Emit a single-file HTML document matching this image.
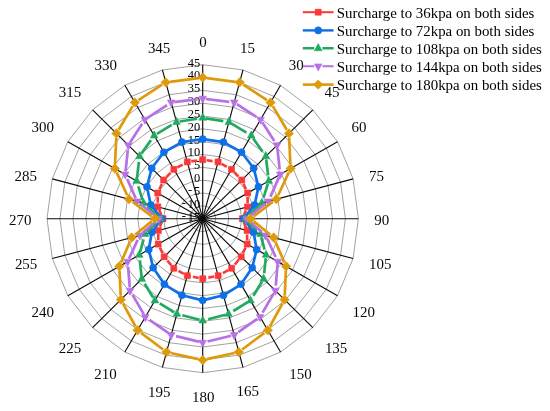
<!DOCTYPE html>
<html><head><meta charset="utf-8"><title>Polar chart</title>
<style>
html,body{margin:0;padding:0;background:#fff;}
body{width:550px;height:411px;overflow:hidden;font-family:"Liberation Serif",serif;}
svg{display:block;}
</style></head><body>
<svg width="550" height="411" viewBox="0 0 550 411">
<rect width="550" height="411" fill="#ffffff"/>
<g fill="none" stroke="#7a7a7a" stroke-width="0.7">
<polygon points="202.70,205.87 206.06,206.30 209.19,207.59 211.87,209.63 213.94,212.28 215.23,215.38 215.67,218.70 215.23,222.02 213.94,225.12 211.87,227.77 209.19,229.81 206.06,231.10 202.70,231.53 199.34,231.10 196.21,229.81 193.53,227.77 191.46,225.12 190.17,222.02 189.72,218.70 190.17,215.38 191.46,212.28 193.53,209.63 196.21,207.59 199.34,206.30"/>
<polygon points="202.70,193.03 209.42,193.91 215.67,196.47 221.05,200.55 225.17,205.87 227.77,212.06 228.65,218.70 227.77,225.34 225.17,231.53 221.05,236.85 215.67,240.93 209.42,243.49 202.70,244.37 195.98,243.49 189.72,240.93 184.35,236.85 180.23,231.53 177.63,225.34 176.75,218.70 177.63,212.06 180.23,205.87 184.35,200.55 189.72,196.47 195.98,193.91"/>
<polygon points="202.70,180.20 212.77,181.51 222.16,185.36 230.22,191.48 236.41,199.45 240.30,208.74 241.62,218.70 240.30,228.66 236.41,237.95 230.22,245.92 222.16,252.04 212.77,255.89 202.70,257.20 192.63,255.89 183.24,252.04 175.18,245.92 168.99,237.95 165.10,228.66 163.77,218.70 165.10,208.74 168.99,199.45 175.18,191.48 183.24,185.36 192.63,181.51"/>
<polygon points="202.70,167.37 216.13,169.12 228.65,174.24 239.40,182.40 247.65,193.03 252.83,205.41 254.60,218.70 252.83,231.99 247.65,244.37 239.40,255.00 228.65,263.16 216.13,268.28 202.70,270.03 189.27,268.28 176.75,263.16 166.00,255.00 157.75,244.37 152.57,231.99 150.80,218.70 152.57,205.41 157.75,193.03 166.00,182.40 176.75,174.24 189.27,169.12"/>
<polygon points="202.70,154.53 219.49,156.72 235.14,163.13 248.57,173.33 258.88,186.62 265.36,202.09 267.57,218.70 265.36,235.31 258.88,250.78 248.57,264.07 235.14,274.27 219.49,280.68 202.70,282.87 185.91,280.68 170.26,274.27 156.83,264.07 146.52,250.78 140.04,235.31 137.82,218.70 140.04,202.09 146.52,186.62 156.83,173.33 170.26,163.13 185.91,156.72"/>
<polygon points="202.70,141.70 222.85,144.32 241.62,152.02 257.75,164.25 270.12,180.20 277.90,198.77 280.55,218.70 277.90,238.63 270.12,257.20 257.75,273.15 241.62,285.38 222.85,293.08 202.70,295.70 182.55,293.08 163.77,285.38 147.65,273.15 135.28,257.20 127.50,238.63 124.85,218.70 127.50,198.77 135.28,180.20 147.65,164.25 163.77,152.02 182.55,144.32"/>
<polygon points="202.70,128.87 226.21,131.93 248.11,140.90 266.92,155.18 281.36,173.78 290.43,195.45 293.52,218.70 290.43,241.95 281.36,263.62 266.92,282.22 248.11,296.50 226.21,305.47 202.70,308.53 179.19,305.47 157.29,296.50 138.48,282.22 124.04,263.62 114.97,241.95 111.87,218.70 114.97,195.45 124.04,173.78 138.48,155.18 157.29,140.90 179.19,131.93"/>
<polygon points="202.70,116.03 229.57,119.53 254.60,129.79 276.10,146.10 292.59,167.37 302.96,192.13 306.50,218.70 302.96,245.27 292.59,270.03 276.10,291.30 254.60,307.61 229.57,317.87 202.70,321.37 175.83,317.87 150.80,307.61 129.30,291.30 112.81,270.03 102.44,245.27 98.90,218.70 102.44,192.13 112.81,167.37 129.30,146.10 150.80,129.79 175.83,119.53"/>
<polygon points="202.70,103.20 232.92,107.14 261.09,118.67 285.27,137.03 303.83,160.95 315.50,188.81 319.47,218.70 315.50,248.59 303.83,276.45 285.27,300.37 261.09,318.73 232.92,330.26 202.70,334.20 172.48,330.26 144.31,318.73 120.13,300.37 101.57,276.45 89.90,248.59 85.92,218.70 89.90,188.81 101.57,160.95 120.13,137.03 144.31,118.67 172.48,107.14"/>
<polygon points="202.70,90.37 236.28,94.74 267.57,107.56 294.45,127.95 315.07,154.53 328.03,185.48 332.45,218.70 328.03,251.92 315.07,282.87 294.45,309.45 267.57,329.84 236.28,342.66 202.70,347.03 169.12,342.66 137.82,329.84 110.95,309.45 90.33,282.87 77.37,251.92 72.95,218.70 77.37,185.48 90.33,154.53 110.95,127.95 137.82,107.56 169.12,94.74"/>
<polygon points="202.70,77.53 239.64,82.34 274.06,96.45 303.62,118.88 326.30,148.12 340.56,182.16 345.42,218.70 340.56,255.24 326.30,289.28 303.62,318.52 274.06,340.95 239.64,355.06 202.70,359.87 165.76,355.06 131.34,340.95 101.78,318.52 79.10,289.28 64.84,255.24 59.97,218.70 64.84,182.16 79.10,148.12 101.78,118.88 131.34,96.45 165.76,82.34"/>
<polygon points="202.70,64.70 243.00,69.95 280.55,85.33 312.80,109.81 337.54,141.70 353.09,178.84 358.40,218.70 353.09,258.56 337.54,295.70 312.80,327.59 280.55,352.07 243.00,367.45 202.70,372.70 162.40,367.45 124.85,352.07 92.60,327.59 67.86,295.70 52.31,258.56 47.00,218.70 52.31,178.84 67.86,141.70 92.60,109.81 124.85,85.33 162.40,69.95"/>
</g>
<g stroke="#0a0a0a" stroke-width="1.15">
<line x1="202.7" y1="218.7" x2="202.70" y2="64.70"/>
<line x1="202.7" y1="218.7" x2="243.00" y2="69.95"/>
<line x1="202.7" y1="218.7" x2="280.55" y2="85.33"/>
<line x1="202.7" y1="218.7" x2="312.80" y2="109.81"/>
<line x1="202.7" y1="218.7" x2="337.54" y2="141.70"/>
<line x1="202.7" y1="218.7" x2="353.09" y2="178.84"/>
<line x1="202.7" y1="218.7" x2="358.40" y2="218.70"/>
<line x1="202.7" y1="218.7" x2="353.09" y2="258.56"/>
<line x1="202.7" y1="218.7" x2="337.54" y2="295.70"/>
<line x1="202.7" y1="218.7" x2="312.80" y2="327.59"/>
<line x1="202.7" y1="218.7" x2="280.55" y2="352.07"/>
<line x1="202.7" y1="218.7" x2="243.00" y2="367.45"/>
<line x1="202.7" y1="218.7" x2="202.70" y2="372.70"/>
<line x1="202.7" y1="218.7" x2="162.40" y2="367.45"/>
<line x1="202.7" y1="218.7" x2="124.85" y2="352.07"/>
<line x1="202.7" y1="218.7" x2="92.60" y2="327.59"/>
<line x1="202.7" y1="218.7" x2="67.86" y2="295.70"/>
<line x1="202.7" y1="218.7" x2="52.31" y2="258.56"/>
<line x1="202.7" y1="218.7" x2="47.00" y2="218.70"/>
<line x1="202.7" y1="218.7" x2="52.31" y2="178.84"/>
<line x1="202.7" y1="218.7" x2="67.86" y2="141.70"/>
<line x1="202.7" y1="218.7" x2="92.60" y2="109.81"/>
<line x1="202.7" y1="218.7" x2="124.85" y2="85.33"/>
<line x1="202.7" y1="218.7" x2="162.40" y2="69.95"/>
</g>
<g font-family="'Liberation Serif', serif" font-size="13.5" fill="#000000" text-anchor="end">
<text transform="translate(200.2,66.60) scale(0.92,1)">45</text>
<text transform="translate(200.2,79.43) scale(0.92,1)">40</text>
<text transform="translate(200.2,92.27) scale(0.92,1)">35</text>
<text transform="translate(200.2,105.10) scale(0.92,1)">30</text>
<text transform="translate(200.2,117.93) scale(0.92,1)">25</text>
<text transform="translate(200.2,130.77) scale(0.92,1)">20</text>
<text transform="translate(200.2,143.60) scale(0.92,1)">15</text>
<text transform="translate(200.2,156.43) scale(0.92,1)">10</text>
<text transform="translate(200.2,169.27) scale(0.92,1)">5</text>
<text transform="translate(200.2,182.10) scale(0.92,1)">0</text>
<text transform="translate(200.2,194.93) scale(0.92,1)"><tspan dy="-0.9">-</tspan><tspan dx="2" dy="0.9">5</tspan></text>
<text transform="translate(200.2,207.77) scale(0.92,1)"><tspan dy="-0.9">-</tspan><tspan dx="2" dy="0.9">10</tspan></text>
<text transform="translate(200.2,220.60) scale(0.92,1)"><tspan dy="-0.9">-</tspan><tspan dx="2" dy="0.9">15</tspan></text>
</g>
<g font-family="'Liberation Serif', serif" font-size="15.6" fill="#0a0a0a" text-anchor="middle">
<text transform="translate(202.9,47.40) scale(0.96,1)">0</text>
<text transform="translate(247.5,52.90) scale(0.96,1)">15</text>
<text transform="translate(296.3,70.10) scale(0.96,1)">30</text>
<text transform="translate(332.0,97.20) scale(0.96,1)">45</text>
<text transform="translate(359,132.00) scale(0.96,1)">60</text>
<text transform="translate(376.4,180.80) scale(0.96,1)">75</text>
<text transform="translate(381.8,224.50) scale(0.96,1)">90</text>
<text transform="translate(380.3,268.70) scale(0.96,1)">105</text>
<text transform="translate(363.7,317.20) scale(0.96,1)">120</text>
<text transform="translate(336.1,352.60) scale(0.96,1)">135</text>
<text transform="translate(300.4,379.40) scale(0.96,1)">150</text>
<text transform="translate(247.8,396.30) scale(0.96,1)">165</text>
<text transform="translate(203.2,402.40) scale(0.96,1)">180</text>
<text transform="translate(159.2,396.80) scale(0.96,1)">195</text>
<text transform="translate(105.5,379.40) scale(0.96,1)">210</text>
<text transform="translate(70,352.60) scale(0.96,1)">225</text>
<text transform="translate(42.8,317.20) scale(0.96,1)">240</text>
<text transform="translate(26.1,268.70) scale(0.96,1)">255</text>
<text transform="translate(20.2,224.90) scale(0.96,1)">270</text>
<text transform="translate(25.8,181.40) scale(0.96,1)">285</text>
<text transform="translate(42.8,132.30) scale(0.96,1)">300</text>
<text transform="translate(70,97.00) scale(0.96,1)">315</text>
<text transform="translate(105.7,69.70) scale(0.96,1)">330</text>
<text transform="translate(159.1,52.60) scale(0.96,1)">345</text>
</g>
<g stroke="#f93838" stroke-width="2.6" fill="none" stroke-dasharray="6 2.2">
<line x1="206.66" y1="160.25" x2="218.08" y2="161.93"/>
<line x1="221.58" y1="163.86" x2="231.50" y2="169.35"/>
<line x1="234.28" y1="172.24" x2="241.78" y2="180.04"/>
<line x1="243.43" y1="183.69" x2="247.65" y2="193.03"/>
<line x1="247.62" y1="197.03" x2="247.57" y2="206.81"/>
<line x1="245.97" y1="210.48" x2="242.40" y2="218.70"/>
<line x1="243.88" y1="222.42" x2="247.07" y2="230.46"/>
<line x1="247.10" y1="234.46" x2="247.20" y2="244.11"/>
<line x1="245.50" y1="247.73" x2="241.23" y2="256.81"/>
<line x1="238.66" y1="259.88" x2="231.63" y2="268.27"/>
<line x1="228.13" y1="270.20" x2="218.15" y2="275.72"/>
<line x1="214.22" y1="276.49" x2="202.70" y2="278.76"/>
<line x1="198.78" y1="277.99" x2="187.25" y2="275.72"/>
<line x1="183.75" y1="273.79" x2="173.77" y2="268.27"/>
<line x1="171.20" y1="265.20" x2="164.17" y2="256.81"/>
<line x1="162.47" y1="253.19" x2="158.20" y2="244.11"/>
<line x1="158.24" y1="240.11" x2="158.33" y2="230.46"/>
<line x1="159.81" y1="226.74" x2="163.00" y2="218.70"/>
<line x1="161.40" y1="215.03" x2="157.83" y2="206.81"/>
<line x1="157.81" y1="202.81" x2="157.75" y2="193.03"/>
<line x1="159.40" y1="189.39" x2="163.62" y2="180.04"/>
<line x1="166.39" y1="177.16" x2="173.90" y2="169.35"/>
<line x1="177.40" y1="167.42" x2="187.32" y2="161.93"/>
<line x1="191.28" y1="161.34" x2="202.70" y2="159.67"/>
</g>
<rect x="199.70" y="156.67" width="6.0" height="6.0" fill="#f93838" stroke="#f93838" stroke-width="0.6" stroke-linejoin="round"/>
<rect x="215.08" y="158.93" width="6.0" height="6.0" fill="#f93838" stroke="#f93838" stroke-width="0.6" stroke-linejoin="round"/>
<rect x="228.50" y="166.35" width="6.0" height="6.0" fill="#f93838" stroke="#f93838" stroke-width="0.6" stroke-linejoin="round"/>
<rect x="238.78" y="177.04" width="6.0" height="6.0" fill="#f93838" stroke="#f93838" stroke-width="0.6" stroke-linejoin="round"/>
<rect x="244.65" y="190.03" width="6.0" height="6.0" fill="#f93838" stroke="#f93838" stroke-width="0.6" stroke-linejoin="round"/>
<rect x="244.57" y="203.81" width="6.0" height="6.0" fill="#f93838" stroke="#f93838" stroke-width="0.6" stroke-linejoin="round"/>
<rect x="239.40" y="215.70" width="6.0" height="6.0" fill="#f93838" stroke="#f93838" stroke-width="0.6" stroke-linejoin="round"/>
<rect x="244.07" y="227.46" width="6.0" height="6.0" fill="#f93838" stroke="#f93838" stroke-width="0.6" stroke-linejoin="round"/>
<rect x="244.20" y="241.11" width="6.0" height="6.0" fill="#f93838" stroke="#f93838" stroke-width="0.6" stroke-linejoin="round"/>
<rect x="238.23" y="253.81" width="6.0" height="6.0" fill="#f93838" stroke="#f93838" stroke-width="0.6" stroke-linejoin="round"/>
<rect x="228.63" y="265.27" width="6.0" height="6.0" fill="#f93838" stroke="#f93838" stroke-width="0.6" stroke-linejoin="round"/>
<rect x="215.15" y="272.72" width="6.0" height="6.0" fill="#f93838" stroke="#f93838" stroke-width="0.6" stroke-linejoin="round"/>
<rect x="199.70" y="275.76" width="6.0" height="6.0" fill="#f93838" stroke="#f93838" stroke-width="0.6" stroke-linejoin="round"/>
<rect x="184.25" y="272.72" width="6.0" height="6.0" fill="#f93838" stroke="#f93838" stroke-width="0.6" stroke-linejoin="round"/>
<rect x="170.77" y="265.27" width="6.0" height="6.0" fill="#f93838" stroke="#f93838" stroke-width="0.6" stroke-linejoin="round"/>
<rect x="161.17" y="253.81" width="6.0" height="6.0" fill="#f93838" stroke="#f93838" stroke-width="0.6" stroke-linejoin="round"/>
<rect x="155.20" y="241.11" width="6.0" height="6.0" fill="#f93838" stroke="#f93838" stroke-width="0.6" stroke-linejoin="round"/>
<rect x="155.33" y="227.46" width="6.0" height="6.0" fill="#f93838" stroke="#f93838" stroke-width="0.6" stroke-linejoin="round"/>
<rect x="160.00" y="215.70" width="6.0" height="6.0" fill="#f93838" stroke="#f93838" stroke-width="0.6" stroke-linejoin="round"/>
<rect x="154.83" y="203.81" width="6.0" height="6.0" fill="#f93838" stroke="#f93838" stroke-width="0.6" stroke-linejoin="round"/>
<rect x="154.75" y="190.03" width="6.0" height="6.0" fill="#f93838" stroke="#f93838" stroke-width="0.6" stroke-linejoin="round"/>
<rect x="160.62" y="177.04" width="6.0" height="6.0" fill="#f93838" stroke="#f93838" stroke-width="0.6" stroke-linejoin="round"/>
<rect x="170.90" y="166.35" width="6.0" height="6.0" fill="#f93838" stroke="#f93838" stroke-width="0.6" stroke-linejoin="round"/>
<rect x="184.32" y="158.93" width="6.0" height="6.0" fill="#f93838" stroke="#f93838" stroke-width="0.6" stroke-linejoin="round"/>
<g stroke="#0f6fe6" stroke-width="2.7" fill="none">
<line x1="202.70" y1="139.13" x2="223.45" y2="142.09"/>
<line x1="223.45" y1="142.09" x2="241.50" y2="152.24"/>
<line x1="241.50" y1="152.24" x2="253.71" y2="168.25"/>
<line x1="253.71" y1="168.25" x2="258.43" y2="186.87"/>
<line x1="258.43" y1="186.87" x2="254.59" y2="204.95"/>
<line x1="254.59" y1="204.95" x2="243.70" y2="218.70"/>
<line x1="243.70" y1="218.70" x2="253.58" y2="232.19"/>
<line x1="253.58" y1="232.19" x2="256.64" y2="249.50"/>
<line x1="256.64" y1="249.50" x2="252.24" y2="267.70"/>
<line x1="252.24" y1="267.70" x2="240.98" y2="284.27"/>
<line x1="240.98" y1="284.27" x2="223.45" y2="295.31"/>
<line x1="223.45" y1="295.31" x2="202.70" y2="300.32"/>
<line x1="202.70" y1="300.32" x2="181.95" y2="295.31"/>
<line x1="181.95" y1="295.31" x2="164.42" y2="284.27"/>
<line x1="164.42" y1="284.27" x2="153.16" y2="267.70"/>
<line x1="153.16" y1="267.70" x2="148.76" y2="249.50"/>
<line x1="148.76" y1="249.50" x2="151.82" y2="232.19"/>
<line x1="151.82" y1="232.19" x2="161.70" y2="218.70"/>
<line x1="161.70" y1="218.70" x2="150.81" y2="204.95"/>
<line x1="150.81" y1="204.95" x2="146.97" y2="186.87"/>
<line x1="146.97" y1="186.87" x2="151.69" y2="168.25"/>
<line x1="151.69" y1="168.25" x2="163.90" y2="152.24"/>
<line x1="163.90" y1="152.24" x2="181.95" y2="142.09"/>
<line x1="181.95" y1="142.09" x2="202.70" y2="139.13"/>
</g>
<circle cx="202.70" cy="139.13" r="3.55" fill="#0f6fe6" stroke="#0f6fe6" stroke-width="0.6" stroke-linejoin="round"/>
<circle cx="223.45" cy="142.09" r="3.55" fill="#0f6fe6" stroke="#0f6fe6" stroke-width="0.6" stroke-linejoin="round"/>
<circle cx="241.50" cy="152.24" r="3.55" fill="#0f6fe6" stroke="#0f6fe6" stroke-width="0.6" stroke-linejoin="round"/>
<circle cx="253.71" cy="168.25" r="3.55" fill="#0f6fe6" stroke="#0f6fe6" stroke-width="0.6" stroke-linejoin="round"/>
<circle cx="258.43" cy="186.87" r="3.55" fill="#0f6fe6" stroke="#0f6fe6" stroke-width="0.6" stroke-linejoin="round"/>
<circle cx="254.59" cy="204.95" r="3.55" fill="#0f6fe6" stroke="#0f6fe6" stroke-width="0.6" stroke-linejoin="round"/>
<circle cx="243.70" cy="218.70" r="3.55" fill="#0f6fe6" stroke="#0f6fe6" stroke-width="0.6" stroke-linejoin="round"/>
<circle cx="253.58" cy="232.19" r="3.55" fill="#0f6fe6" stroke="#0f6fe6" stroke-width="0.6" stroke-linejoin="round"/>
<circle cx="256.64" cy="249.50" r="3.55" fill="#0f6fe6" stroke="#0f6fe6" stroke-width="0.6" stroke-linejoin="round"/>
<circle cx="252.24" cy="267.70" r="3.55" fill="#0f6fe6" stroke="#0f6fe6" stroke-width="0.6" stroke-linejoin="round"/>
<circle cx="240.98" cy="284.27" r="3.55" fill="#0f6fe6" stroke="#0f6fe6" stroke-width="0.6" stroke-linejoin="round"/>
<circle cx="223.45" cy="295.31" r="3.55" fill="#0f6fe6" stroke="#0f6fe6" stroke-width="0.6" stroke-linejoin="round"/>
<circle cx="202.70" cy="300.32" r="3.55" fill="#0f6fe6" stroke="#0f6fe6" stroke-width="0.6" stroke-linejoin="round"/>
<circle cx="181.95" cy="295.31" r="3.55" fill="#0f6fe6" stroke="#0f6fe6" stroke-width="0.6" stroke-linejoin="round"/>
<circle cx="164.42" cy="284.27" r="3.55" fill="#0f6fe6" stroke="#0f6fe6" stroke-width="0.6" stroke-linejoin="round"/>
<circle cx="153.16" cy="267.70" r="3.55" fill="#0f6fe6" stroke="#0f6fe6" stroke-width="0.6" stroke-linejoin="round"/>
<circle cx="148.76" cy="249.50" r="3.55" fill="#0f6fe6" stroke="#0f6fe6" stroke-width="0.6" stroke-linejoin="round"/>
<circle cx="151.82" cy="232.19" r="3.55" fill="#0f6fe6" stroke="#0f6fe6" stroke-width="0.6" stroke-linejoin="round"/>
<circle cx="161.70" cy="218.70" r="3.55" fill="#0f6fe6" stroke="#0f6fe6" stroke-width="0.6" stroke-linejoin="round"/>
<circle cx="150.81" cy="204.95" r="3.55" fill="#0f6fe6" stroke="#0f6fe6" stroke-width="0.6" stroke-linejoin="round"/>
<circle cx="146.97" cy="186.87" r="3.55" fill="#0f6fe6" stroke="#0f6fe6" stroke-width="0.6" stroke-linejoin="round"/>
<circle cx="151.69" cy="168.25" r="3.55" fill="#0f6fe6" stroke="#0f6fe6" stroke-width="0.6" stroke-linejoin="round"/>
<circle cx="163.90" cy="152.24" r="3.55" fill="#0f6fe6" stroke="#0f6fe6" stroke-width="0.6" stroke-linejoin="round"/>
<circle cx="181.95" cy="142.09" r="3.55" fill="#0f6fe6" stroke="#0f6fe6" stroke-width="0.6" stroke-linejoin="round"/>
<g stroke="#1faa5f" stroke-width="2.7" fill="none">
<line x1="205.86" y1="118.33" x2="223.36" y2="121.13"/>
<line x1="231.63" y1="123.67" x2="246.44" y2="132.66"/>
<line x1="253.07" y1="138.18" x2="262.59" y2="151.69"/>
<line x1="266.20" y1="159.44" x2="268.11" y2="175.41"/>
<line x1="267.81" y1="184.02" x2="263.53" y2="197.68"/>
<line x1="259.53" y1="205.22" x2="249.33" y2="214.85"/>
<line x1="247.51" y1="220.98" x2="256.42" y2="230.00"/>
<line x1="261.20" y1="237.07" x2="264.60" y2="249.49"/>
<line x1="265.75" y1="258.07" x2="264.19" y2="273.38"/>
<line x1="261.95" y1="281.69" x2="253.37" y2="295.72"/>
<line x1="247.72" y1="302.17" x2="233.27" y2="310.98"/>
<line x1="225.39" y1="314.71" x2="208.12" y2="319.19"/>
<line x1="199.60" y1="319.79" x2="182.33" y2="315.31"/>
<line x1="174.18" y1="312.23" x2="159.73" y2="303.42"/>
<line x1="153.28" y1="297.77" x2="144.70" y2="283.73"/>
<line x1="141.46" y1="275.77" x2="139.89" y2="260.46"/>
<line x1="140.17" y1="251.80" x2="143.57" y2="239.38"/>
<line x1="147.30" y1="231.70" x2="156.21" y2="222.68"/>
<line x1="157.82" y1="216.50" x2="147.62" y2="206.87"/>
<line x1="142.59" y1="199.97" x2="138.30" y2="186.31"/>
<line x1="137.01" y1="177.79" x2="138.91" y2="161.83"/>
<line x1="141.42" y1="153.65" x2="150.95" y2="140.14"/>
<line x1="156.91" y1="133.91" x2="171.72" y2="124.92"/>
<line x1="179.67" y1="121.51" x2="197.17" y2="118.71"/>
</g>
<polygon points="202.70,113.13 206.50,120.23 198.90,120.23" fill="#1faa5f" stroke="#1faa5f" stroke-width="0.6" stroke-linejoin="round"/>
<polygon points="228.89,117.31 232.69,124.41 225.09,124.41" fill="#1faa5f" stroke="#1faa5f" stroke-width="0.6" stroke-linejoin="round"/>
<polygon points="251.23,130.87 255.03,137.97 247.43,137.97" fill="#1faa5f" stroke="#1faa5f" stroke-width="0.6" stroke-linejoin="round"/>
<polygon points="265.82,151.57 269.62,158.67 262.02,158.67" fill="#1faa5f" stroke="#1faa5f" stroke-width="0.6" stroke-linejoin="round"/>
<polygon points="268.77,176.27 272.57,183.37 264.97,183.37" fill="#1faa5f" stroke="#1faa5f" stroke-width="0.6" stroke-linejoin="round"/>
<polygon points="261.86,198.32 265.66,205.42 258.06,205.42" fill="#1faa5f" stroke="#1faa5f" stroke-width="0.6" stroke-linejoin="round"/>
<polygon points="245.26,214.00 249.06,221.10 241.46,221.10" fill="#1faa5f" stroke="#1faa5f" stroke-width="0.6" stroke-linejoin="round"/>
<polygon points="260.35,229.28 264.15,236.38 256.55,236.38" fill="#1faa5f" stroke="#1faa5f" stroke-width="0.6" stroke-linejoin="round"/>
<polygon points="266.07,250.19 269.87,257.29 262.27,257.29" fill="#1faa5f" stroke="#1faa5f" stroke-width="0.6" stroke-linejoin="round"/>
<polygon points="263.62,274.25 267.42,281.35 259.82,281.35" fill="#1faa5f" stroke="#1faa5f" stroke-width="0.6" stroke-linejoin="round"/>
<polygon points="250.45,295.80 254.25,302.90 246.65,302.90" fill="#1faa5f" stroke="#1faa5f" stroke-width="0.6" stroke-linejoin="round"/>
<polygon points="228.49,309.20 232.29,316.30 224.69,316.30" fill="#1faa5f" stroke="#1faa5f" stroke-width="0.6" stroke-linejoin="round"/>
<polygon points="202.70,315.90 206.50,323.00 198.90,323.00" fill="#1faa5f" stroke="#1faa5f" stroke-width="0.6" stroke-linejoin="round"/>
<polygon points="176.91,309.20 180.71,316.30 173.11,316.30" fill="#1faa5f" stroke="#1faa5f" stroke-width="0.6" stroke-linejoin="round"/>
<polygon points="154.95,295.80 158.75,302.90 151.15,302.90" fill="#1faa5f" stroke="#1faa5f" stroke-width="0.6" stroke-linejoin="round"/>
<polygon points="141.78,274.25 145.58,281.35 137.98,281.35" fill="#1faa5f" stroke="#1faa5f" stroke-width="0.6" stroke-linejoin="round"/>
<polygon points="139.33,250.19 143.13,257.29 135.53,257.29" fill="#1faa5f" stroke="#1faa5f" stroke-width="0.6" stroke-linejoin="round"/>
<polygon points="145.05,229.28 148.85,236.38 141.25,236.38" fill="#1faa5f" stroke="#1faa5f" stroke-width="0.6" stroke-linejoin="round"/>
<polygon points="160.14,214.00 163.94,221.10 156.34,221.10" fill="#1faa5f" stroke="#1faa5f" stroke-width="0.6" stroke-linejoin="round"/>
<polygon points="143.54,198.32 147.34,205.42 139.74,205.42" fill="#1faa5f" stroke="#1faa5f" stroke-width="0.6" stroke-linejoin="round"/>
<polygon points="136.63,176.27 140.43,183.37 132.83,183.37" fill="#1faa5f" stroke="#1faa5f" stroke-width="0.6" stroke-linejoin="round"/>
<polygon points="139.58,151.57 143.38,158.67 135.78,158.67" fill="#1faa5f" stroke="#1faa5f" stroke-width="0.6" stroke-linejoin="round"/>
<polygon points="154.17,130.87 157.97,137.97 150.37,137.97" fill="#1faa5f" stroke="#1faa5f" stroke-width="0.6" stroke-linejoin="round"/>
<polygon points="176.51,117.31 180.31,124.41 172.71,124.41" fill="#1faa5f" stroke="#1faa5f" stroke-width="0.6" stroke-linejoin="round"/>
<g stroke="#b870e6" stroke-width="2.7" fill="none">
<line x1="205.88" y1="98.97" x2="229.24" y2="101.82"/>
<line x1="236.88" y1="104.17" x2="256.38" y2="116.84"/>
<line x1="262.30" y1="122.26" x2="274.32" y2="140.99"/>
<line x1="277.37" y1="148.38" x2="279.69" y2="169.46"/>
<line x1="278.94" y1="177.35" x2="270.39" y2="196.72"/>
<line x1="265.87" y1="203.29" x2="250.46" y2="215.58"/>
<line x1="248.96" y1="220.81" x2="261.85" y2="232.08"/>
<line x1="266.96" y1="238.28" x2="275.66" y2="257.03"/>
<line x1="277.50" y1="264.75" x2="275.78" y2="285.59"/>
<line x1="273.76" y1="293.34" x2="262.56" y2="312.62"/>
<line x1="257.42" y1="318.78" x2="238.30" y2="332.11"/>
<line x1="231.09" y1="335.73" x2="207.56" y2="341.48"/>
<line x1="199.59" y1="341.91" x2="176.06" y2="336.16"/>
<line x1="168.58" y1="333.14" x2="149.45" y2="319.81"/>
<line x1="143.74" y1="314.18" x2="132.55" y2="294.89"/>
<line x1="129.77" y1="287.38" x2="128.05" y2="266.55"/>
<line x1="128.99" y1="258.66" x2="137.68" y2="239.91"/>
<line x1="142.19" y1="233.27" x2="155.08" y2="221.99"/>
<line x1="156.34" y1="216.70" x2="140.94" y2="204.41"/>
<line x1="135.74" y1="198.37" x2="127.19" y2="179.00"/>
<line x1="125.52" y1="171.24" x2="127.84" y2="150.17"/>
<line x1="130.11" y1="142.50" x2="142.13" y2="123.77"/>
<line x1="147.51" y1="117.82" x2="167.01" y2="105.15"/>
<line x1="174.38" y1="102.04" x2="197.74" y2="99.19"/>
</g>
<polygon points="202.70,103.28 206.50,96.18 198.90,96.18" fill="#b870e6" stroke="#b870e6" stroke-width="0.6" stroke-linejoin="round"/>
<polygon points="234.20,107.13 238.00,100.03 230.40,100.03" fill="#b870e6" stroke="#b870e6" stroke-width="0.6" stroke-linejoin="round"/>
<polygon points="260.57,124.26 264.37,117.16 256.77,117.16" fill="#b870e6" stroke="#b870e6" stroke-width="0.6" stroke-linejoin="round"/>
<polygon points="277.02,149.90 280.82,142.80 273.22,142.80" fill="#b870e6" stroke="#b870e6" stroke-width="0.6" stroke-linejoin="round"/>
<polygon points="280.23,179.12 284.03,172.02 276.43,172.02" fill="#b870e6" stroke="#b870e6" stroke-width="0.6" stroke-linejoin="round"/>
<polygon points="268.37,206.00 272.17,198.90 264.57,198.90" fill="#b870e6" stroke="#b870e6" stroke-width="0.6" stroke-linejoin="round"/>
<polygon points="246.56,223.40 250.36,216.30 242.76,216.30" fill="#b870e6" stroke="#b870e6" stroke-width="0.6" stroke-linejoin="round"/>
<polygon points="265.62,240.07 269.42,232.97 261.82,232.97" fill="#b870e6" stroke="#b870e6" stroke-width="0.6" stroke-linejoin="round"/>
<polygon points="277.76,266.26 281.56,259.16 273.96,259.16" fill="#b870e6" stroke="#b870e6" stroke-width="0.6" stroke-linejoin="round"/>
<polygon points="275.36,295.27 279.16,288.17 271.56,288.17" fill="#b870e6" stroke="#b870e6" stroke-width="0.6" stroke-linejoin="round"/>
<polygon points="260.05,321.65 263.85,314.55 256.25,314.55" fill="#b870e6" stroke="#b870e6" stroke-width="0.6" stroke-linejoin="round"/>
<polygon points="234.20,339.67 238.00,332.57 230.40,332.57" fill="#b870e6" stroke="#b870e6" stroke-width="0.6" stroke-linejoin="round"/>
<polygon points="202.70,347.37 206.50,340.27 198.90,340.27" fill="#b870e6" stroke="#b870e6" stroke-width="0.6" stroke-linejoin="round"/>
<polygon points="171.20,339.67 175.00,332.57 167.40,332.57" fill="#b870e6" stroke="#b870e6" stroke-width="0.6" stroke-linejoin="round"/>
<polygon points="145.35,321.65 149.15,314.55 141.55,314.55" fill="#b870e6" stroke="#b870e6" stroke-width="0.6" stroke-linejoin="round"/>
<polygon points="130.04,295.27 133.84,288.17 126.24,288.17" fill="#b870e6" stroke="#b870e6" stroke-width="0.6" stroke-linejoin="round"/>
<polygon points="127.64,266.26 131.44,259.16 123.84,259.16" fill="#b870e6" stroke="#b870e6" stroke-width="0.6" stroke-linejoin="round"/>
<polygon points="139.78,240.07 143.58,232.97 135.98,232.97" fill="#b870e6" stroke="#b870e6" stroke-width="0.6" stroke-linejoin="round"/>
<polygon points="158.84,223.40 162.64,216.30 155.04,216.30" fill="#b870e6" stroke="#b870e6" stroke-width="0.6" stroke-linejoin="round"/>
<polygon points="137.03,206.00 140.83,198.90 133.23,198.90" fill="#b870e6" stroke="#b870e6" stroke-width="0.6" stroke-linejoin="round"/>
<polygon points="125.17,179.12 128.97,172.02 121.37,172.02" fill="#b870e6" stroke="#b870e6" stroke-width="0.6" stroke-linejoin="round"/>
<polygon points="128.38,149.90 132.18,142.80 124.58,142.80" fill="#b870e6" stroke="#b870e6" stroke-width="0.6" stroke-linejoin="round"/>
<polygon points="144.83,124.26 148.63,117.16 141.03,117.16" fill="#b870e6" stroke="#b870e6" stroke-width="0.6" stroke-linejoin="round"/>
<polygon points="171.20,107.13 175.00,100.03 167.40,100.03" fill="#b870e6" stroke="#b870e6" stroke-width="0.6" stroke-linejoin="round"/>
<g stroke="#de9a0a" stroke-width="2.7" fill="none">
<line x1="206.96" y1="78.09" x2="235.38" y2="81.79"/>
<line x1="243.24" y1="84.69" x2="266.95" y2="100.10"/>
<line x1="272.76" y1="106.14" x2="286.75" y2="129.70"/>
<line x1="289.14" y1="137.69" x2="290.37" y2="164.23"/>
<line x1="288.77" y1="172.42" x2="278.20" y2="195.27"/>
<line x1="272.96" y1="201.76" x2="253.88" y2="216.11"/>
<line x1="253.79" y1="221.41" x2="270.30" y2="234.79"/>
<line x1="275.34" y1="241.45" x2="284.37" y2="262.36"/>
<line x1="285.88" y1="270.61" x2="284.74" y2="295.35"/>
<line x1="282.48" y1="303.42" x2="269.89" y2="326.51"/>
<line x1="264.40" y1="332.87" x2="242.27" y2="349.50"/>
<line x1="234.64" y1="353.02" x2="206.90" y2="359.19"/>
<line x1="198.50" y1="359.19" x2="170.76" y2="353.02"/>
<line x1="163.13" y1="349.50" x2="141.00" y2="332.87"/>
<line x1="135.51" y1="326.51" x2="122.92" y2="303.42"/>
<line x1="120.66" y1="295.35" x2="119.52" y2="270.61"/>
<line x1="121.03" y1="262.36" x2="130.06" y2="241.45"/>
<line x1="135.10" y1="234.79" x2="151.61" y2="221.41"/>
<line x1="151.52" y1="216.11" x2="132.44" y2="201.76"/>
<line x1="127.20" y1="195.27" x2="116.63" y2="172.42"/>
<line x1="115.03" y1="164.23" x2="116.26" y2="137.69"/>
<line x1="118.65" y1="129.70" x2="132.64" y2="106.14"/>
<line x1="138.45" y1="100.10" x2="162.16" y2="84.69"/>
<line x1="170.02" y1="81.79" x2="198.44" y2="78.09"/>
</g>
<polygon points="202.70,72.83 207.40,77.53 202.70,82.23 198.00,77.53" fill="#de9a0a" stroke="#de9a0a" stroke-width="0.6" stroke-linejoin="round"/>
<polygon points="239.64,77.64 244.34,82.34 239.64,87.04 234.94,82.34" fill="#de9a0a" stroke="#de9a0a" stroke-width="0.6" stroke-linejoin="round"/>
<polygon points="270.56,97.75 275.26,102.45 270.56,107.15 265.86,102.45" fill="#de9a0a" stroke="#de9a0a" stroke-width="0.6" stroke-linejoin="round"/>
<polygon points="288.94,128.70 293.64,133.40 288.94,138.10 284.24,133.40" fill="#de9a0a" stroke="#de9a0a" stroke-width="0.6" stroke-linejoin="round"/>
<polygon points="290.57,163.82 295.27,168.52 290.57,173.22 285.87,168.52" fill="#de9a0a" stroke="#de9a0a" stroke-width="0.6" stroke-linejoin="round"/>
<polygon points="276.39,194.47 281.09,199.17 276.39,203.87 271.69,199.17" fill="#de9a0a" stroke="#de9a0a" stroke-width="0.6" stroke-linejoin="round"/>
<polygon points="250.45,214.00 255.15,218.70 250.45,223.40 245.75,218.70" fill="#de9a0a" stroke="#de9a0a" stroke-width="0.6" stroke-linejoin="round"/>
<polygon points="273.64,232.80 278.34,237.50 273.64,242.20 268.94,237.50" fill="#de9a0a" stroke="#de9a0a" stroke-width="0.6" stroke-linejoin="round"/>
<polygon points="286.08,261.61 290.78,266.31 286.08,271.01 281.38,266.31" fill="#de9a0a" stroke="#de9a0a" stroke-width="0.6" stroke-linejoin="round"/>
<polygon points="284.54,294.94 289.24,299.64 284.54,304.34 279.84,299.64" fill="#de9a0a" stroke="#de9a0a" stroke-width="0.6" stroke-linejoin="round"/>
<polygon points="267.83,325.58 272.53,330.28 267.83,334.98 263.13,330.28" fill="#de9a0a" stroke="#de9a0a" stroke-width="0.6" stroke-linejoin="round"/>
<polygon points="238.83,347.38 243.53,352.08 238.83,356.78 234.13,352.08" fill="#de9a0a" stroke="#de9a0a" stroke-width="0.6" stroke-linejoin="round"/>
<polygon points="202.70,355.42 207.40,360.12 202.70,364.82 198.00,360.12" fill="#de9a0a" stroke="#de9a0a" stroke-width="0.6" stroke-linejoin="round"/>
<polygon points="166.57,347.38 171.27,352.08 166.57,356.78 161.87,352.08" fill="#de9a0a" stroke="#de9a0a" stroke-width="0.6" stroke-linejoin="round"/>
<polygon points="137.57,325.58 142.27,330.28 137.57,334.98 132.87,330.28" fill="#de9a0a" stroke="#de9a0a" stroke-width="0.6" stroke-linejoin="round"/>
<polygon points="120.86,294.94 125.56,299.64 120.86,304.34 116.16,299.64" fill="#de9a0a" stroke="#de9a0a" stroke-width="0.6" stroke-linejoin="round"/>
<polygon points="119.32,261.61 124.02,266.31 119.32,271.01 114.62,266.31" fill="#de9a0a" stroke="#de9a0a" stroke-width="0.6" stroke-linejoin="round"/>
<polygon points="131.76,232.80 136.46,237.50 131.76,242.20 127.06,237.50" fill="#de9a0a" stroke="#de9a0a" stroke-width="0.6" stroke-linejoin="round"/>
<polygon points="154.95,214.00 159.65,218.70 154.95,223.40 150.25,218.70" fill="#de9a0a" stroke="#de9a0a" stroke-width="0.6" stroke-linejoin="round"/>
<polygon points="129.01,194.47 133.71,199.17 129.01,203.87 124.31,199.17" fill="#de9a0a" stroke="#de9a0a" stroke-width="0.6" stroke-linejoin="round"/>
<polygon points="114.83,163.82 119.53,168.52 114.83,173.22 110.13,168.52" fill="#de9a0a" stroke="#de9a0a" stroke-width="0.6" stroke-linejoin="round"/>
<polygon points="116.46,128.70 121.16,133.40 116.46,138.10 111.76,133.40" fill="#de9a0a" stroke="#de9a0a" stroke-width="0.6" stroke-linejoin="round"/>
<polygon points="134.84,97.75 139.54,102.45 134.84,107.15 130.14,102.45" fill="#de9a0a" stroke="#de9a0a" stroke-width="0.6" stroke-linejoin="round"/>
<polygon points="165.76,77.64 170.46,82.34 165.76,87.04 161.06,82.34" fill="#de9a0a" stroke="#de9a0a" stroke-width="0.6" stroke-linejoin="round"/>
<g font-family="'Liberation Serif', serif" font-size="14.88" fill="#000000">
<line x1="302.8" y1="12.2" x2="333.6" y2="12.2" stroke="#f93838" stroke-width="2.0"/>
<rect x="315.20" y="9.20" width="6.0" height="6.0" fill="#f93838" stroke="#f93838" stroke-width="0.6" stroke-linejoin="round"/>
<text x="336.8" y="17.60">Surcharge to 36kpa on both sides</text>
<line x1="302.8" y1="30.4" x2="333.6" y2="30.4" stroke="#0f6fe6" stroke-width="2.4"/>
<circle cx="318.20" cy="30.40" r="3.55" fill="#0f6fe6" stroke="#0f6fe6" stroke-width="0.6" stroke-linejoin="round"/>
<text x="336.8" y="35.80">Surcharge to 72kpa on both sides</text>
<path d="M302.8,48.3 H314.2 M322.4,48.3 H333.6" stroke="#1faa5f" stroke-width="2.4" fill="none"/>
<polygon points="318.20,43.60 322.00,50.70 314.40,50.70" fill="#1faa5f" stroke="#1faa5f" stroke-width="0.6" stroke-linejoin="round"/>
<text x="336.8" y="53.70">Surcharge to 108kpa on both sides</text>
<path d="M302.8,66.3 H314.2 M322.4,66.3 H333.6" stroke="#b870e6" stroke-width="2.0" fill="none"/>
<polygon points="318.20,71.00 322.00,63.90 314.40,63.90" fill="#b870e6" stroke="#b870e6" stroke-width="0.6" stroke-linejoin="round"/>
<text x="336.8" y="71.70">Surcharge to 144kpa on both sides</text>
<line x1="302.8" y1="84.6" x2="333.6" y2="84.6" stroke="#de9a0a" stroke-width="2.6"/>
<polygon points="318.20,79.90 322.90,84.60 318.20,89.30 313.50,84.60" fill="#de9a0a" stroke="#de9a0a" stroke-width="0.6" stroke-linejoin="round"/>
<text x="336.8" y="90.00">Surcharge to 180kpa on both sides</text>
</g>
</svg>
</body></html>
